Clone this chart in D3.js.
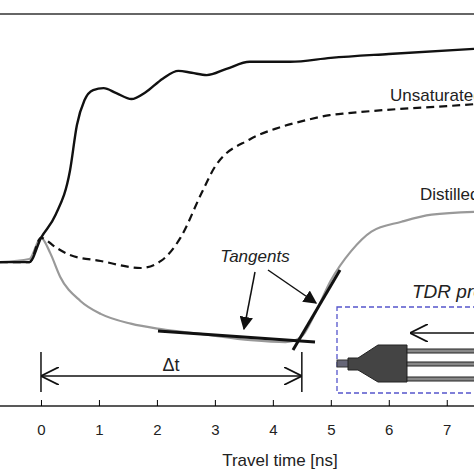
<!DOCTYPE html><html><head><script src="https://cdn.jsdelivr.net/npm/d3@7"></script>
<style>body{margin:0;background:#fff}text{font-family:"Liberation Sans",Arial,sans-serif}</style></head><body>
<svg id="c" width="474" height="474"></svg>
<script>
const xTicks=[0,1,2,3,4,5,6,7];
// travel time [ns] and relative signal (arbitrary units 0-100)
const soilT=[-0.71,-0.2,0,0.25,0.5,0.62,0.75,0.9,1.08,1.3,1.56,1.8,2.1,2.37,2.6,2.86,3.2,3.6,4.3,5.0,6.0,7.47];
const soilV=[36.7,36.7,42.9,48.7,60,71.7,78,80.6,81.1,79.8,78.3,80,83.5,85.5,85,84.4,86,87.8,87.8,88.8,89.8,91.1];
const waterT=[-0.71,-0.2,0,0.25,0.5,1.03,1.72,2.07,2.41,2.76,3.0,3.6,4.1,4.6,4.98,5.3,6.2,7.0,7.47];
const waterV=[36.7,36.7,42.9,40.5,38.5,37,35.2,37,43,54,61,68,71,73,74.2,74.7,75.8,76.5,77];
const distT=[-0.71,-0.2,0,0.16,0.33,0.68,1.03,1.55,2.07,2.76,3.62,4.22,4.48,4.74,5.0,5.35,5.7,6.22,6.74,7.47];
const distV=[36.7,37.5,42.9,39,33,26.8,23.5,21,19.6,18.4,16.8,16.3,17.5,24,32,39.5,44.5,47,48.8,49.5];
const W=474,H=474;
const svg=d3.select("#c");
const x=d3.scaleLinear().domain([-0.707,7.47]).range([0,W]);
const y=d3.scaleLinear().domain([0,100]).range([406,14]);
svg.append("line").attr("x1",0).attr("x2",W).attr("y1",14).attr("y2",14).attr("stroke","#333").attr("stroke-width",1.5);
const ax=svg.append("g").attr("transform","translate(0,406)").call(d3.axisBottom(x).tickValues(xTicks).tickSizeInner(-6).tickSizeOuter(0).tickPadding(18).tickFormat(d3.format("d")));
ax.select(".domain").attr("stroke","#222").attr("stroke-width",1.5).attr("d","M0,0H474");
ax.selectAll("text").attr("font-size",15).attr("fill","#222");
svg.append("text").attr("x",280).attr("y",466).attr("text-anchor","middle").attr("font-size",17).attr("fill","#222").text("Travel time [ns]");
const line=d3.line().x(d=>x(d[0])).y(d=>y(d[1])).curve(d3.curveMonotoneX);
const z=(a,b)=>a.map((t,i)=>[t,b[i]]);
svg.append("path").attr("d",line(z(distT,distV))).attr("fill","none").attr("stroke","#999").attr("stroke-width",2.2);
svg.append("path").attr("d",line(z(waterT,waterV))).attr("fill","none").attr("stroke","#111").attr("stroke-width",2.2).attr("stroke-dasharray","8,5");
svg.append("path").attr("d",line(z(soilT,soilV))).attr("fill","none").attr("stroke","#111").attr("stroke-width",2.4);
const T=(px,py,s,o={})=>svg.append("text").attr("x",px).attr("y",py).attr("font-size",o.fs||17).attr("font-style",o.it?"italic":null).attr("text-anchor",o.a||"start").attr("fill","#222").text(s);
T(390,101,"Unsaturated");T(420,200,"Distilled");
T(255,262,"Tangents",{it:1,a:"middle"});T(412,298,"TDR probe",{it:1,fs:19});
const L=(a,b,c,d,w=1.5)=>svg.append("line").attr("x1",a).attr("y1",b).attr("x2",c).attr("y2",d).attr("stroke","#111").attr("stroke-width",w);
L(158,331,315,342,3);L(293,350,340,270,3);
const defs=svg.append("defs");
defs.append("marker").attr("id","ah").attr("viewBox","0 0 10 10").attr("refX",9).attr("refY",5).attr("markerWidth",9).attr("markerHeight",9).attr("orient","auto").append("path").attr("d","M0,0L10,5L0,10z").attr("fill","#111");
defs.append("marker").attr("id","oa").attr("viewBox","0 0 10 10").attr("refX",10).attr("refY",5).attr("markerWidth",12).attr("markerHeight",12).attr("orient","auto-start-reverse").append("path").attr("d","M0,0L10,5L0,10").attr("fill","none").attr("stroke","#111").attr("stroke-width",1);
L(255,272,244,329).attr("marker-end","url(#ah)");L(268,270,316,303).attr("marker-end","url(#ah)");
L(x(0),352,x(0),392);L(x(4.5),352,x(4.5),392);
L(x(0),376,x(4.5),376).attr("marker-start","url(#oa)").attr("marker-end","url(#oa)");
T(171,371,"Δt",{fs:18,a:"middle"});
svg.append("rect").attr("x",337).attr("y",307).attr("width",160).attr("height",86).attr("fill","none").attr("stroke","#55c").attr("stroke-width",1.3).attr("stroke-dasharray","5,3");
L(410,333,480,333).attr("marker-start","url(#oa)");
svg.append("rect").attr("x",337).attr("y",360).attr("width",12).attr("height",7).attr("fill","#667").attr("stroke","#333");
svg.append("path").attr("d","M348,358L358,358L378,345L407,345L407,382L378,382L358,370L348,370Z").attr("fill","#444").attr("stroke","#222");
[349,362,377].forEach(py=>svg.append("rect").attr("x",407).attr("y",py).attr("width",80).attr("height",4).attr("fill","#888").attr("stroke","#222").attr("stroke-width",1));
</script></body></html>
